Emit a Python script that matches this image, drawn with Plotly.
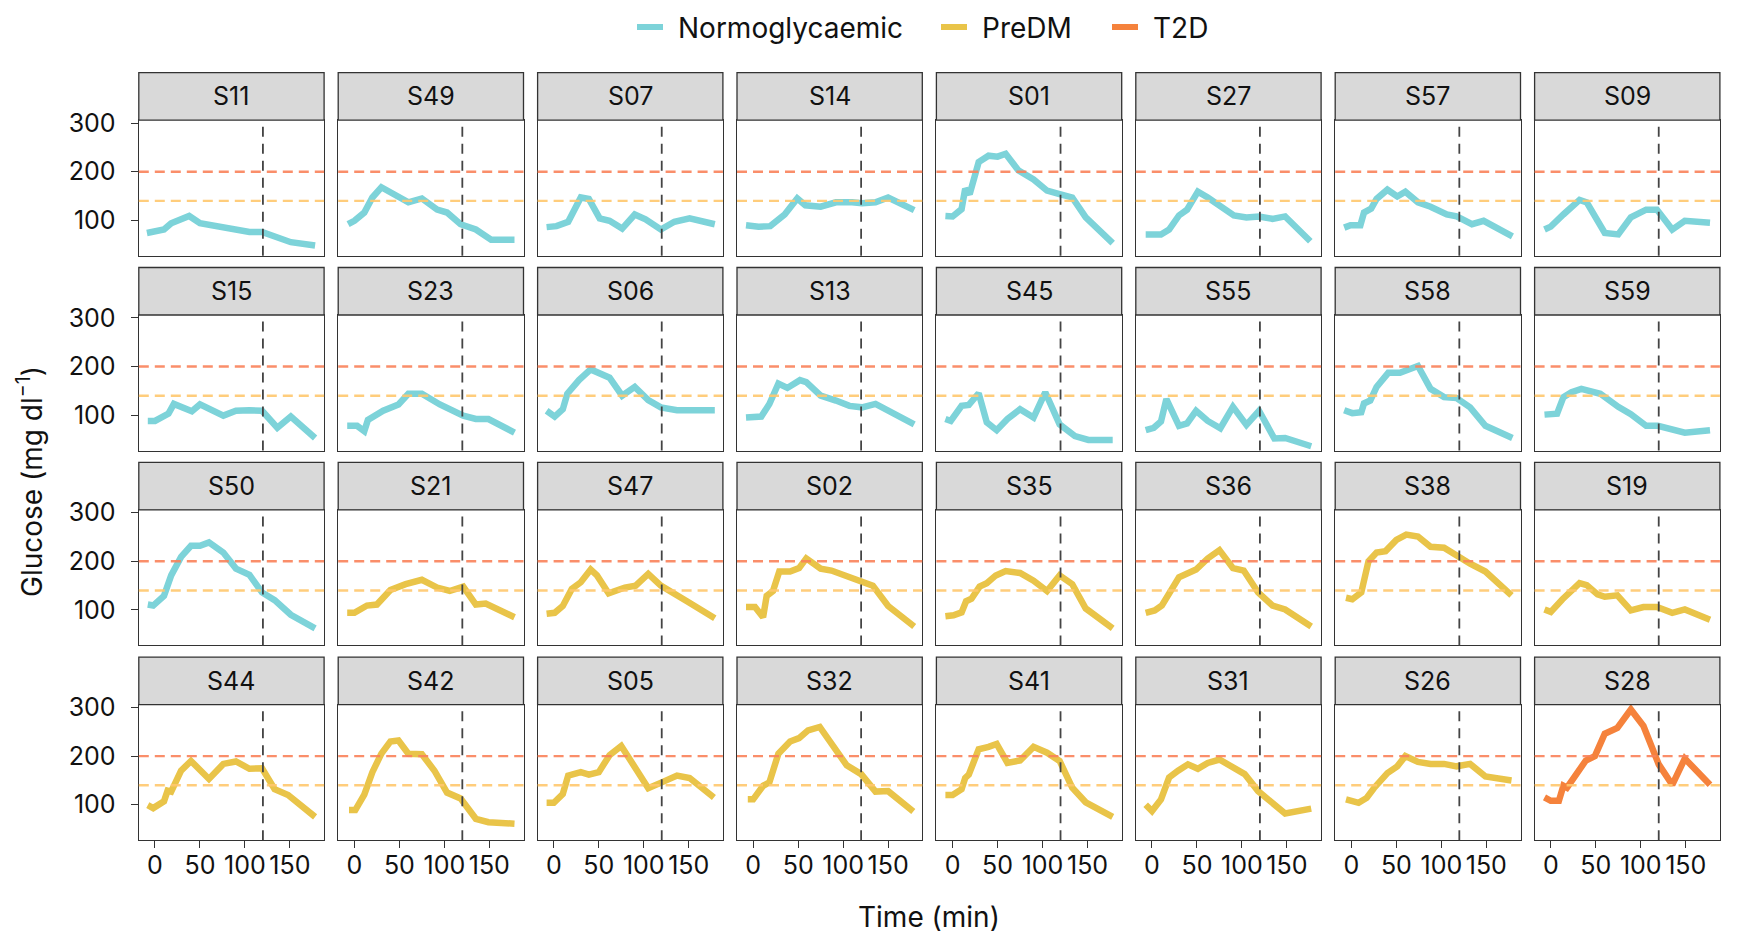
import plotly.graph_objects as go

# ---------------- data ----------------
subjects = ["S11", "S49", "S07", "S14", "S01", "S27", "S57", "S09",
            "S15", "S23", "S06", "S13", "S45", "S55", "S58", "S59",
            "S50", "S21", "S47", "S02", "S35", "S36", "S38", "S19",
            "S44", "S42", "S05", "S32", "S41", "S31", "S26", "S28"]
groups = (["Normoglycaemic"] * 17) + (["PreDM"] * 14) + ["T2D"]
group_order = ["Normoglycaemic", "PreDM", "T2D"]

t_S11 = [-9, 10, 18, 38, 50, 67, 90, 105, 119, 133, 151, 178]
g_S11 = [74, 81, 94, 109, 94, 88, 79, 76, 76, 67, 55, 48]
t_S49 = [-7, 0, 11, 20, 30, 43, 60, 75, 92, 103, 118, 135, 152, 178]
g_S49 = [92, 99, 116, 147, 168, 154, 137, 145, 122, 116, 92, 81, 60, 60]
t_S07 = [-8, 3, 16, 30, 39, 51, 62, 76, 90, 102, 119, 134, 151, 179]
g_S07 = [86, 88, 97, 147, 144, 104, 99, 83, 112, 102, 81, 97, 104, 92]
t_S14 = [-8, 6, 19, 35, 49, 58, 75, 92, 110, 121, 136, 150, 179]
g_S14 = [90, 87, 88, 112, 145, 131, 128, 137, 137, 135, 137, 147, 121]
t_S01 = [-8, 0, 10, 14, 19, 29, 40, 50, 59, 73, 90, 105, 119, 133, 148, 159, 178]
g_S01 = [109, 108, 123, 165, 154, 220, 233, 231, 237, 203, 184, 161, 154, 147, 106, 88, 53]
t_S27 = [-7, 10, 19, 30, 39, 51, 62, 75, 91, 105, 119, 134, 148, 176]
g_S27 = [71, 71, 81, 110, 122, 159, 147, 130, 110, 106, 108, 103, 108, 57]
t_S57 = [-8, -1, 10, 14, 22, 28, 40, 51, 60, 74, 88, 106, 117, 134, 147, 179]
g_S57 = [85, 90, 90, 116, 124, 144, 163, 149, 159, 137, 128, 112, 108, 92, 99, 67]
t_S09 = [-7, 0, 14, 32, 40, 60, 75, 89, 106, 118, 135, 149, 177]
g_S09 = [81, 87, 112, 142, 137, 74, 71, 106, 122, 122, 81, 99, 95]

t_S15 = [-8, 0, 15, 21, 41, 50, 76, 90, 105, 119, 136, 151, 178]
g_S15 = [88, 88, 103, 123, 108, 122, 99, 109, 110, 109, 74, 97, 53]
t_S23 = [-8, 3, 11, 15, 32, 49, 60, 75, 95, 121, 135, 149, 178]
g_S23 = [78, 78, 67, 90, 109, 122, 144, 144, 122, 99, 92, 92, 64]
t_S06 = [-8, 1, 10, 15, 28, 41, 62, 76, 90, 105, 119, 137, 179]
g_S06 = [109, 97, 112, 144, 172, 194, 177, 140, 158, 131, 116, 110, 110]
t_S13 = [-8, 9, 18, 28, 38, 52, 59, 75, 92, 107, 121, 136, 179]
g_S13 = [95, 97, 123, 165, 156, 172, 168, 140, 130, 119, 116, 123, 81]
t_S45 = [-8, -2, 10, 18, 29, 38, 49, 61, 75, 90, 103, 119, 136, 151, 178]
g_S45 = [92, 88, 119, 121, 145, 85, 69, 92, 112, 95, 147, 81, 57, 49, 49]
t_S55 = [-7, 2, 10, 16, 30, 39, 49, 62, 76, 90, 105, 119, 136, 148, 177]
g_S55 = [69, 74, 87, 133, 78, 83, 109, 88, 73, 117, 80, 109, 52, 53, 36]
t_S58 = [-8, 1, 11, 14, 21, 28, 41, 54, 74, 88, 103, 117, 132, 149, 179]
g_S58 = [110, 104, 106, 124, 130, 158, 187, 187, 201, 154, 137, 135, 116, 78, 53]
t_S59 = [-7, 7, 14, 23, 34, 55, 75, 89, 106, 119, 149, 177]
g_S59 = [101, 103, 137, 147, 154, 144, 117, 102, 78, 78, 64, 69]

t_S50 = [-8, -2, 10, 18, 29, 40, 50, 60, 76, 90, 105, 119, 133, 151, 178]
g_S50 = [111, 109, 129, 171, 209, 232, 232, 239, 218, 185, 172, 136, 120, 90, 62]
t_S21 = [-8, 0, 14, 25, 40, 57, 75, 92, 106, 121, 135, 146, 178]
g_S21 = [94, 94, 109, 111, 141, 153, 162, 146, 139, 148, 111, 113, 85]
t_S47 = [-8, 1, 10, 20, 30, 41, 48, 61, 79, 91, 105, 119, 148, 179]
g_S47 = [92, 94, 108, 143, 157, 183, 171, 134, 146, 150, 174, 150, 118, 83]
t_S02 = [-8, 2, 11, 15, 22, 29, 41, 51, 59, 75, 87, 101, 118, 133, 150, 179]
g_S02 = [106, 106, 85, 129, 139, 179, 179, 186, 206, 185, 181, 172, 158, 150, 108, 66]
t_S35 = [-8, 1, 10, 15, 21, 30, 38, 48, 59, 75, 90, 105, 119, 133, 148, 178]
g_S35 = [87, 89, 95, 118, 123, 148, 155, 171, 180, 176, 160, 139, 171, 153, 103, 62]
t_S36 = [-7, 3, 11, 19, 30, 49, 62, 75, 90, 102, 118, 134, 148, 177]
g_S36 = [94, 99, 109, 136, 167, 183, 206, 223, 186, 181, 136, 109, 101, 66]
t_S38 = [-6, 1, 11, 19, 28, 38, 50, 61, 74, 88, 103, 117, 132, 149, 178]
g_S38 = [125, 122, 136, 200, 218, 221, 244, 255, 251, 230, 228, 211, 195, 179, 130]
t_S19 = [-7, 0, 13, 32, 40, 52, 60, 74, 89, 103, 118, 135, 149, 177]
g_S19 = [101, 96, 122, 155, 151, 132, 127, 130, 99, 106, 106, 94, 101, 80]

t_S44 = [-8, -2, 10, 14, 18, 29, 40, 60, 76, 90, 105, 119, 133, 148, 178]
g_S44 = [99, 93, 107, 129, 127, 170, 190, 153, 184, 189, 174, 175, 132, 120, 75]
t_S42 = [-6, 1, 11, 20, 30, 40, 49, 60, 75, 89, 103, 118, 135, 149, 178]
g_S42 = [89, 89, 121, 167, 205, 230, 232, 205, 204, 170, 125, 113, 71, 64, 61]
t_S05 = [-8, 0, 10, 16, 30, 39, 50, 62, 75, 88, 105, 120, 137, 151, 178]
g_S05 = [104, 104, 122, 160, 167, 162, 167, 202, 221, 181, 134, 146, 160, 155, 115]
t_S32 = [-6, 0, 11, 18, 28, 41, 51, 61, 74, 87, 104, 120, 136, 150, 178]
g_S32 = [111, 111, 139, 146, 205, 230, 237, 253, 260, 225, 181, 163, 127, 128, 86]
t_S41 = [-8, 0, 10, 14, 18, 29, 40, 49, 61, 75, 90, 105, 119, 133, 148, 178]
g_S41 = [120, 120, 132, 155, 162, 214, 219, 225, 186, 191, 219, 207, 190, 135, 105, 75]
t_S31 = [-7, 0, 10, 19, 29, 40, 51, 62, 75, 91, 103, 118, 134, 148, 177]
g_S31 = [100, 87, 111, 156, 170, 183, 174, 186, 193, 177, 163, 128, 103, 82, 92]
t_S26 = [-6, 8, 17, 25, 40, 51, 60, 74, 88, 103, 117, 132, 149, 178]
g_S26 = [111, 104, 114, 134, 165, 179, 200, 188, 184, 184, 179, 184, 158, 150]
t_S28 = [-7, 0, 9, 14, 18, 29, 39, 49, 60, 74, 89, 103, 120, 135, 149, 177]
g_S28 = [115, 108, 108, 139, 135, 162, 191, 200, 246, 258, 296, 262, 183, 141, 195, 141]

x_ticks = [0, 50, 100, 150]
y_ticks = [100, 200, 300]
t2d_threshold = 200
predm_threshold = 140
meal_end = 120

# ---------------- styling ----------------
colors = {"Normoglycaemic": "#7DD3D9", "PreDM": "#E9C449", "T2D": "#F5823C"}
FONT = "Inter"
W, H = 1746, 944

def px(x):
    return x / W

def py(y):
    return 1 - y / H

series = {name: (globals()["t_" + name], globals()["g_" + name]) for name in subjects}

fig = go.Figure()
layout_axes = {}
shapes = []
annotations = []

for i, name in enumerate(subjects):
    r, c = divmod(i, 8)
    n = "" if i == 0 else str(i + 1)
    x0 = 138.8 + 199.4 * c
    x1 = x0 + 185.3
    y_strip = 72.7 + 194.8 * r
    y_top = 120.2 + 194.8 * r
    y_bot = 255.8 + 194.8 * r
    t, g = series[name]
    grp = groups[i]
    fig.add_trace(go.Scatter(x=t, y=g, mode="lines", xaxis="x" + n, yaxis="y" + n,
                             name=grp, legendgroup=grp,
                             line=dict(color=colors[grp], width=6.5),
                             showlegend=False, hoverinfo="skip"))
    layout_axes["xaxis" + n] = dict(
        domain=[px(x0), px(x1)], range=[-18, 188], anchor="y" + n,
        showgrid=False, zeroline=False, showline=True, mirror=True,
        linecolor="#333", linewidth=1.3, tickvals=x_ticks,
        showticklabels=(r == 3), ticks="outside" if r == 3 else "",
        ticklen=7, tickwidth=1.2, tickcolor="#333", ticklabelstandoff=-4,
        tickfont=dict(size=25, color="#111", family=FONT))
    layout_axes["yaxis" + n] = dict(
        domain=[py(y_bot), py(y_top)], range=[27, 306], anchor="x" + n,
        showgrid=False, zeroline=False, showline=True, mirror=True,
        linecolor="#333", linewidth=1.3, tickvals=y_ticks,
        showticklabels=(c == 0), ticks="outside" if c == 0 else "",
        ticklen=7, tickwidth=1.2, tickcolor="#333", ticklabelstandoff=10,
        tickfont=dict(size=25, color="#111", family=FONT))
    # strip
    shapes.append(dict(type="rect", xref="paper", yref="paper",
                       x0=px(x0), x1=px(x1), y0=py(y_top), y1=py(y_strip),
                       fillcolor="#D9D9D9", line=dict(color="#333", width=1.3)))
    annotations.append(dict(text=name, xref="paper", yref="paper",
                            x=px((x0 + x1) / 2), y=py((y_strip + y_top) / 2),
                            showarrow=False, xanchor="center", yanchor="middle",
                            font=dict(size=25, color="#111", family=FONT)))
    # reference lines
    shapes.append(dict(type="line", xref="x" + n + " domain", yref="y" + n,
                       x0=0, x1=1, y0=t2d_threshold, y1=t2d_threshold,
                       line=dict(color="rgba(250,130,90,0.9)", width=2.4, dash="10px,6px")))
    shapes.append(dict(type="line", xref="x" + n + " domain", yref="y" + n,
                       x0=0, x1=1, y0=predm_threshold, y1=predm_threshold,
                       line=dict(color="rgba(255,200,110,0.9)", width=2.4, dash="10px,6px")))
    shapes.append(dict(type="line", xref="x" + n, yref="y" + n + " domain",
                       x0=meal_end, x1=meal_end, y0=0, y1=1,
                       line=dict(color="#444", width=1.8, dash="10px,7px")))

# legend (drawn manually to match the reference spacing)
legend_swatch_x = [637, 941, 1112]
for grp, lx in zip(group_order, legend_swatch_x):
    shapes.append(dict(type="line", xref="paper", yref="paper",
                       x0=px(lx), x1=px(lx + 26), y0=py(27), y1=py(27),
                       line=dict(color=colors[grp], width=6)))
    annotations.append(dict(text=grp, xref="paper", yref="paper",
                            x=px(lx + 39), y=py(27.5), showarrow=False,
                            xanchor="left", yanchor="middle",
                            font=dict(size=28, color="#111", family=FONT)))

annotations.append(dict(text="Glucose (mg dl<sup>−1</sup>)", xref="paper", yref="paper",
                        x=px(30), y=py(482), textangle=-90, showarrow=False,
                        xanchor="center", yanchor="middle",
                        font=dict(size=28, color="#111", family=FONT)))
annotations.append(dict(text="Time (min)", xref="paper", yref="paper",
                        x=px(929), y=py(917), showarrow=False,
                        xanchor="center", yanchor="middle",
                        font=dict(size=28, color="#111", family=FONT)))

fig.update_layout(
    width=W, height=H, margin=dict(l=0, r=0, t=0, b=0, autoexpand=False),
    paper_bgcolor="white", plot_bgcolor="white",
    font=dict(family=FONT, color="#111"),
    showlegend=False,
    shapes=shapes, annotations=annotations, **layout_axes)

fig.write_html("out.html")
